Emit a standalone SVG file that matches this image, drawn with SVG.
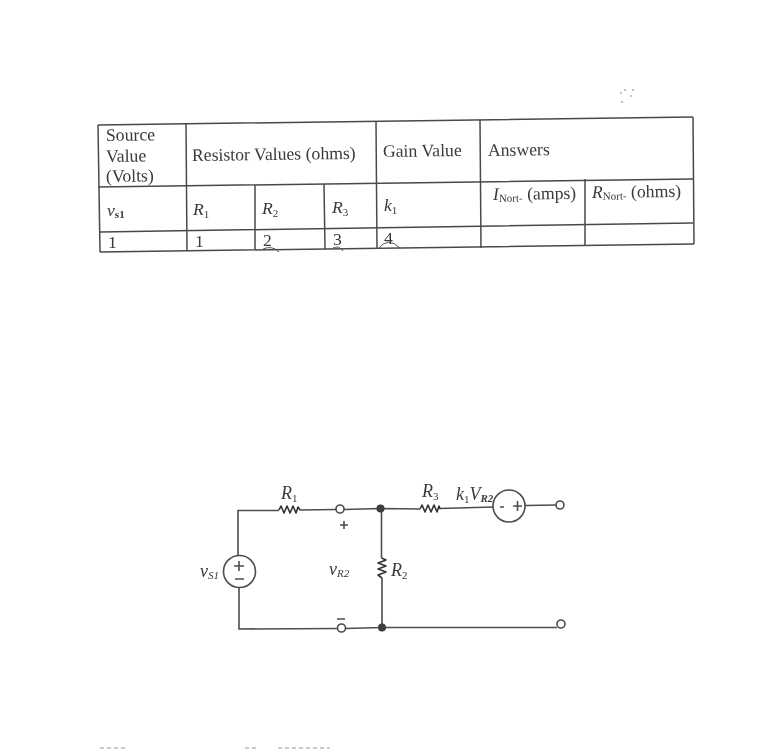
<svg xmlns="http://www.w3.org/2000/svg" width="764" height="749" viewBox="0 0 764 749">
<defs>
<filter id="soft" x="-5%" y="-5%" width="110%" height="110%"><feGaussianBlur stdDeviation="0.5"/></filter>
</defs>
<style>
.l{stroke:#4a4a4a;stroke-width:1.5;fill:none}
.w{stroke:#4d4d4d;stroke-width:1.6;fill:none}
.r{stroke:#333;stroke-width:1.6;fill:none;stroke-linejoin:round}
.o{stroke:#4d4d4d;stroke-width:1.6;fill:#fff}
.d{fill:#3c3c3c}
.m{fill:#aaa}
text{font-family:"Liberation Serif","Times New Roman",serif;fill:#3a3a3a;font-size:17.700px}
.c{font-size:18px}
.i{font-style:italic}
.s{font-size:11px}
</style>
<rect width="764" height="749" fill="#fff"/>
<g filter="url(#soft)">
<g id="table">
<path class="l" d="M98 125L693 117M98 187L693 179M100 232L693 223M100 252L694 244"/>
<path class="l" d="M98 125L100 252M186 124L187 251M255 185L255 250M324 184L325 249M376 122L377 249M480 120L481 248M585 179L585 246M693 117L694 244"/>
<text x="106" y="141" transform="rotate(-0.77 106 141)">Source</text>
<text x="106" y="162" transform="rotate(-0.77 106 162)">Value</text>
<text x="106" y="182" transform="rotate(-0.77 106 182)">(Volts)</text>
<text x="192" y="161" transform="rotate(-0.77 192 161)">Resistor Values (ohms)</text>
<text x="383" y="157" transform="rotate(-0.77 383 157)">Gain Value</text>
<text x="488" y="156" transform="rotate(-0.77 488 156)">Answers</text>
<text class="i" x="107" y="216">v<tspan class="s" dy="2" font-style="normal" font-weight="bold">s1</tspan></text>
<text class="i" x="193" y="215">R<tspan class="s" dy="3" font-style="normal">1</tspan></text>
<text class="i" x="262" y="214">R<tspan class="s" dy="3" font-style="normal">2</tspan></text>
<text class="i" x="332" y="213">R<tspan class="s" dy="3" font-style="normal">3</tspan></text>
<text class="i" x="384" y="211">k<tspan class="s" dy="3" font-style="normal">1</tspan></text>
<text class="i" x="493" y="200" transform="rotate(-0.77 493 200)">I<tspan class="s" dy="2" font-style="normal">Nort-</tspan><tspan dy="-2" font-style="normal"> (amps)</tspan></text>
<text class="i" x="592" y="198" transform="rotate(-0.77 592 198)">R<tspan class="s" dy="2" font-style="normal">Nort-</tspan><tspan dy="-2" font-style="normal"> (ohms)</tspan></text>
<text x="108" y="248">1</text>
<text x="195" y="247">1</text>
<text x="263" y="246">2</text>
<text x="333" y="245">3</text>
<text x="384" y="244">4</text>
<path d="M263 249Q272 245 279 252M333 248Q339 245 343 251M378 249Q388 236 400 248" stroke="#555" stroke-width="1" fill="none"/>
</g>
<g id="connectors">
<path class="w" d="M279 510.500L238 510.500V555M239 588V629L337.500 628.500M345.500 628.500L382 627.500H557M300 510L336 509.500M344 509.500L380.500 508.500L420 509M440 508.500L493 507M525 505.500L556 505M381.500 508.500V558M382 578V627.500"/>
</g>
<g id="R1"><path class="r" d="M279 510L281 506L284 513L287 506L290 513L293 506L296 513L298 507L300 510"/><text class="i c" x="281" y="499">R<tspan class="s" dy="3" font-style="normal">1</tspan></text></g>
<g id="R2"><path class="r" d="M381.500 558L386 560L378 563L386 566L378 569L386 572L378 575L382 578"/><text class="i c" x="391" y="576">R<tspan class="s" dy="3" font-style="normal">2</tspan></text></g>
<g id="R3"><path class="r" d="M420 509L422 505L425 512L428 505L431 512L434 505L437 512L439 506L440 509"/><text class="i c" x="422" y="497">R<tspan class="s" dy="3" font-style="normal">3</tspan></text></g>
<g id="vs1"><circle class="w" cx="239.500" cy="571.500" r="16"/><path class="w" d="M234 566H244M239 561V571M235 579H244"/><text class="i c" x="200" y="577">v<tspan class="s" dy="2">S1</tspan></text></g>
<g id="source"><circle class="w" cx="509" cy="506" r="16"/><path class="w" d="M500 507H504M513 506H522M517.500 501V511"/><text class="i c" x="456" y="500">k<tspan class="s" dy="3" font-style="normal">1</tspan><tspan dy="-3">V</tspan><tspan class="s" dy="2" font-weight="bold">R2</tspan></text></g>
<g id="vR2"><text class="i c" x="329" y="575">v<tspan class="s" dy="2">R2</tspan></text><path class="w" d="M344 521V529M340 525H348M337 619H345"/></g>
<g id="n1"><circle class="o" cx="340" cy="509" r="4"/></g>
<g id="n2"><circle class="o" cx="341.500" cy="628" r="4"/></g>
<g id="n3"><circle class="d" cx="380.500" cy="508.500" r="4"/></g>
<g id="n4"><circle class="d" cx="382" cy="627.500" r="4"/></g>
<g id="n5"><circle class="o" cx="560" cy="505" r="4"/></g>
<g id="n6"><circle class="o" cx="561" cy="624" r="4"/></g>
<circle class="m" cx="625" cy="90" r="1"/><circle class="m" cx="621" cy="93" r="1"/><circle class="m" cx="633" cy="90" r="1"/><circle class="m" cx="622" cy="102" r="1"/><circle class="m" cx="631" cy="96" r="1"/>
<path d="M245 748H256M278 748H330M100 748H125" stroke="#bbb" stroke-width="1.500" stroke-dasharray="4 3" fill="none"/>
</g>
</svg>
